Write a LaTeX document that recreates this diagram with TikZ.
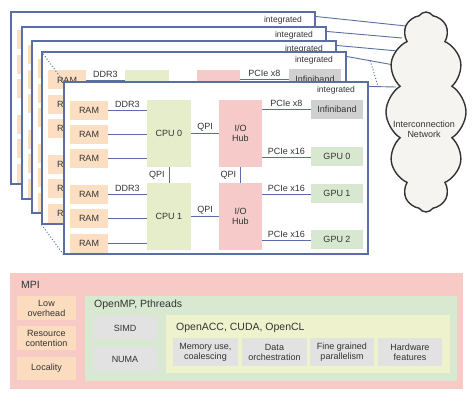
\documentclass[tikz,border=0pt]{standalone}
\usepackage{fontspec}
\setmainfont{Liberation Sans}
\usetikzlibrary{shapes.symbols,positioning,calc}

\definecolor{edge}{HTML}{5B6EA3}
\definecolor{txt}{HTML}{333333}
\definecolor{ramc}{HTML}{FCDFC2}
\definecolor{cpuc}{HTML}{E5EDCB}
\definecolor{hubc}{HTML}{F7CACA}
\definecolor{gpuc}{HTML}{D8E8D0}
\definecolor{ibc}{HTML}{D0D0D0}
\definecolor{mpic}{HTML}{F7CAC6}
\definecolor{ohc}{HTML}{FCDCBE}
\definecolor{ompc}{HTML}{D9E8D0}
\definecolor{accc}{HTML}{EEF3CD}
\definecolor{grayc}{HTML}{E2E2E2}
\definecolor{cloudc}{HTML}{F6F4F1}

\newcommand{\board}[3]{%
  \begin{scope}[shift={(#1,#2)}]
    \node[frame] (f#3) at (216,168) {};
    \node[ram] (ra#3) at (89,110) {RAM};
    \node[ram] (rb#3) [below=5pt of ra#3] {RAM};
    \node[ram] (rc#3) [below=5pt of rb#3] {RAM};
    \node[ram] (rd#3) [below=16pt of rc#3] {RAM};
    \node[ram] (re#3) [below=5pt of rd#3] {RAM};
    \node[ram] (rf#3) [below=5pt of re#3] {RAM};
    \node[cpu] (c0#3) at (169,133.5) {CPU 0};
    \node[cpu] (c1#3) at (169,216.5) {CPU 1};
    \node[hub] (h0#3) at (240.5,133.5) {I/O\\Hub};
    \node[hub] (h1#3) at (240.5,216.5) {I/O\\Hub};
    \node[dev,fill=ibc] (ib#3) at (337,109) {Infiniband};
    \node[dev,fill=gpuc] (g0#3) at (337,156.5) {GPU 0};
    \node[dev,fill=gpuc] (g1#3) at (337,193.5) {GPU 1};
    \node[dev,fill=gpuc] (g2#3) at (337,239) {GPU 2};
    \node[small] (in#3) at (336,90) {integrated};
    \path[link]
      (ra#3) edge node[lbl,above] {DDR3} (ra#3 -| c0#3.west)
      (rb#3) edge (rb#3 -| c0#3.west)
      (rc#3) edge (rc#3 -| c0#3.west)
      (rd#3) edge node[lbl,above] {DDR3} (rd#3 -| c1#3.west)
      (re#3) edge (re#3 -| c1#3.west)
      (rf#3) edge (rf#3 -| c1#3.west)
      (c0#3) edge node[lbl,above] {QPI} (h0#3)
      (c1#3) edge node[lbl,above] {QPI} (h1#3)
      (c0#3) edge node[lbl,left=2pt] {QPI} (c1#3)
      (h0#3) edge node[lbl,left=2pt] {QPI} (h1#3)
      (ib#3.west -| h0#3.east) edge node[lbl,above] {PCIe x8} (ib#3.west)
      ($(g0#3.west -| h0#3.east)+(0,1)$) edge node[lbl,above] {PCIe x16} ($(g0#3.west)+(0,1)$)
      ($(g1#3.west -| h1#3.east)+(0,1)$) edge node[lbl,above] {PCIe x16} ($(g1#3.west)+(0,1)$)
      ($(g2#3.west -| h1#3.east)+(0,1)$) edge node[lbl,above] {PCIe x16} ($(g2#3.west)+(0,1)$);
  \end{scope}
  \coordinate (s#3) at ($(f#3.north east)+(0,5)$);
  \draw[link] (s#3) -- (n#3);
}

\begin{document}
\begin{tikzpicture}[x=1pt,y=-1pt,
    every node/.style={font=\fontsize{9}{10}\selectfont,text=txt},
    frame/.style={rectangle,draw=edge,fill=white,line width=1.1pt,minimum width=304pt,minimum height=172pt},
    box/.style={rectangle,inner sep=1pt,align=center},
    ram/.style={box,fill=ramc,minimum width=38pt,minimum height=19pt},
    cpu/.style={box,fill=cpuc,minimum width=44pt,minimum height=67pt},
    hub/.style={box,fill=hubc,minimum width=43pt,minimum height=67pt},
    dev/.style={box,minimum width=52pt,minimum height=19pt},
    small/.style={font=\fontsize{8.5}{10}\selectfont,inner sep=1pt},
    lbl/.style={inner sep=2pt},
    link/.style={draw=edge,line width=0.9pt},
    ellip/.style={draw=edge,line width=1pt,dash pattern=on 1pt off 2pt},
    cloudy/.style={cloud,cloud puffs=12,cloud puff arc=115,aspect=0.4,draw=txt,fill=cloudc,line width=1.4pt,minimum width=80pt,minimum height=200pt},
    panel/.style={rectangle,inner sep=0pt},
    head/.style={font=\fontsize{10.5}{12}\selectfont,inner sep=0pt,anchor=west},
    soft/.style={box,fill=ohc,minimum width=59pt},
    tile/.style={box,fill=grayc}]
  \useasboundingbox (0,0) rectangle (474,404);

  \coordinate (na) at (406,26);
  \coordinate (nb) at (402,38);
  \coordinate (nc) at (398,51);
  \coordinate (nd) at (394,65);
  \coordinate (ne) at (396,87);

  \board{-53}{-70}{a}
  \board{-42}{-55}{b}
  \board{-32}{-41}{c}
  \board{-22}{-30}{d}
  \board{0}{0}{e}

  \draw[ellip] (fd.north west) -- (fe.north west);
  \draw[ellip] (fd.south west) -- (fe.south west);
  \draw[ellip] ($(sd)!0.5!(nd)$) -- ($(se)!0.35!(ne)$);

  \node[cloudy] (net) at (426,112) {};
  \node[align=center] (netl) at (424,129) {Interconnection\\Network};

  \node[panel,fill=mpic,minimum width=453pt,minimum height=116pt] (mpi) at (236.5,331) {};
  \node[head] (mpil) at (21,285) {MPI};
  \node[soft,minimum height=24pt] (low) at (46.5,308) {Low\\overhead};
  \node[soft,minimum height=24pt] (res) at (46.5,338) {Resource\\contention};
  \node[soft,minimum height=23pt] (loc) at (46.5,368.5) {Locality};
  \node[panel,fill=ompc,minimum width=372pt,minimum height=85pt] (omp) at (271,338.5) {};
  \node[head] (ompl) at (94,305) {OpenMP, Pthreads};
  \node[tile,minimum width=64pt,minimum height=24pt] (simd) at (125,328) {SIMD};
  \node[tile,minimum width=64pt,minimum height=25pt] (numa) at (125,359.5) {NUMA};
  \node[panel,fill=accc,minimum width=284pt,minimum height=58pt] (acc) at (308,344) {};
  \node[head] (accl) at (176,328) {OpenACC, CUDA, OpenCL};
  \node[tile,minimum width=65pt,minimum height=28pt] (mem) at (205.5,352) {Memory use,\\coalescing};
  \node[tile,minimum width=65pt,minimum height=28pt] (data) at (274.5,352) {Data\\orchestration};
  \node[tile,minimum width=64pt,minimum height=28pt] (fine) at (342,352) {Fine grained\\parallelism};
  \node[tile,minimum width=64pt,minimum height=28pt] (hw) at (410,352) {Hardware\\features};
\end{tikzpicture}
\end{document}
